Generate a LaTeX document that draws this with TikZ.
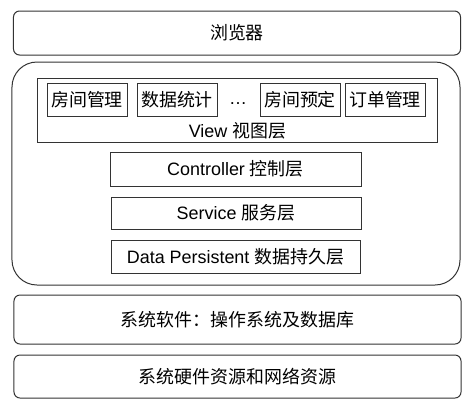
\documentclass[tikz,border=0pt]{standalone}
\usepackage{fontspec}
\setmainfont{Liberation Sans}
\newfontfamily\cjk{Noto Sans CJK SC}
\begin{document}
\begin{tikzpicture}[x=1bp,y=-1bp,
	line width=1bp,
	layer/.style={draw=black!80,rounded corners=6bp,inner sep=0pt,minimum width=447bp},
	part/.style={draw=black!80,inner sep=0pt,minimum width=80bp,minimum height=33bp},
	tier/.style={draw=black!80,inner sep=0pt,minimum height=33bp},
	every node/.style={font=\fontsize{18}{21}\selectfont}]
	\useasboundingbox (0,0) rectangle (474,410);
	% top and bottom layers
	\node[layer,minimum height=44bp] (browser) at (237,33) {\cjk 浏览器};
	\node[layer,minimum height=49bp] (syssoft) at (237.5,319.5) {\cjk 系统软件：操作系统及数据库};
	\node[layer,minimum height=43bp] (hardware) at (237.5,376.5) {\cjk 系统硬件资源和网络资源};
	% application
	\node[draw=black!80,rounded corners=25bp,minimum width=448bp,minimum height=223bp] (app) at (236,173.5) {};
	\node[draw=black!80,minimum width=399bp,minimum height=64bp] (view) at (237.5,110) {};
	\node (viewlbl) at (237.5,131) {View {\cjk 视图层}};
	\node[part] (room) at (87,99.5) {\cjk 房间管理};
	\node[part] (stat) at (177,99.5) {\cjk 数据统计};
	\node (dots) at (238,104) {\ldots};
	\node[part] (book) at (300,99.5) {\cjk 房间预定};
	\node[part] (order) at (385,99.5) {\cjk 订单管理};
	\node[tier,minimum width=251bp,minimum height=34bp] (ctrl) at (235.5,169) {Controller {\cjk 控制层}};
	\node[tier,minimum width=250bp,minimum height=32bp] (service) at (236,213) {Service {\cjk 服务层}};
	\node[tier,minimum width=249bp] (data) at (235.5,256.5) {Data Persistent {\cjk 数据持久层}};
\end{tikzpicture}
\end{document}
